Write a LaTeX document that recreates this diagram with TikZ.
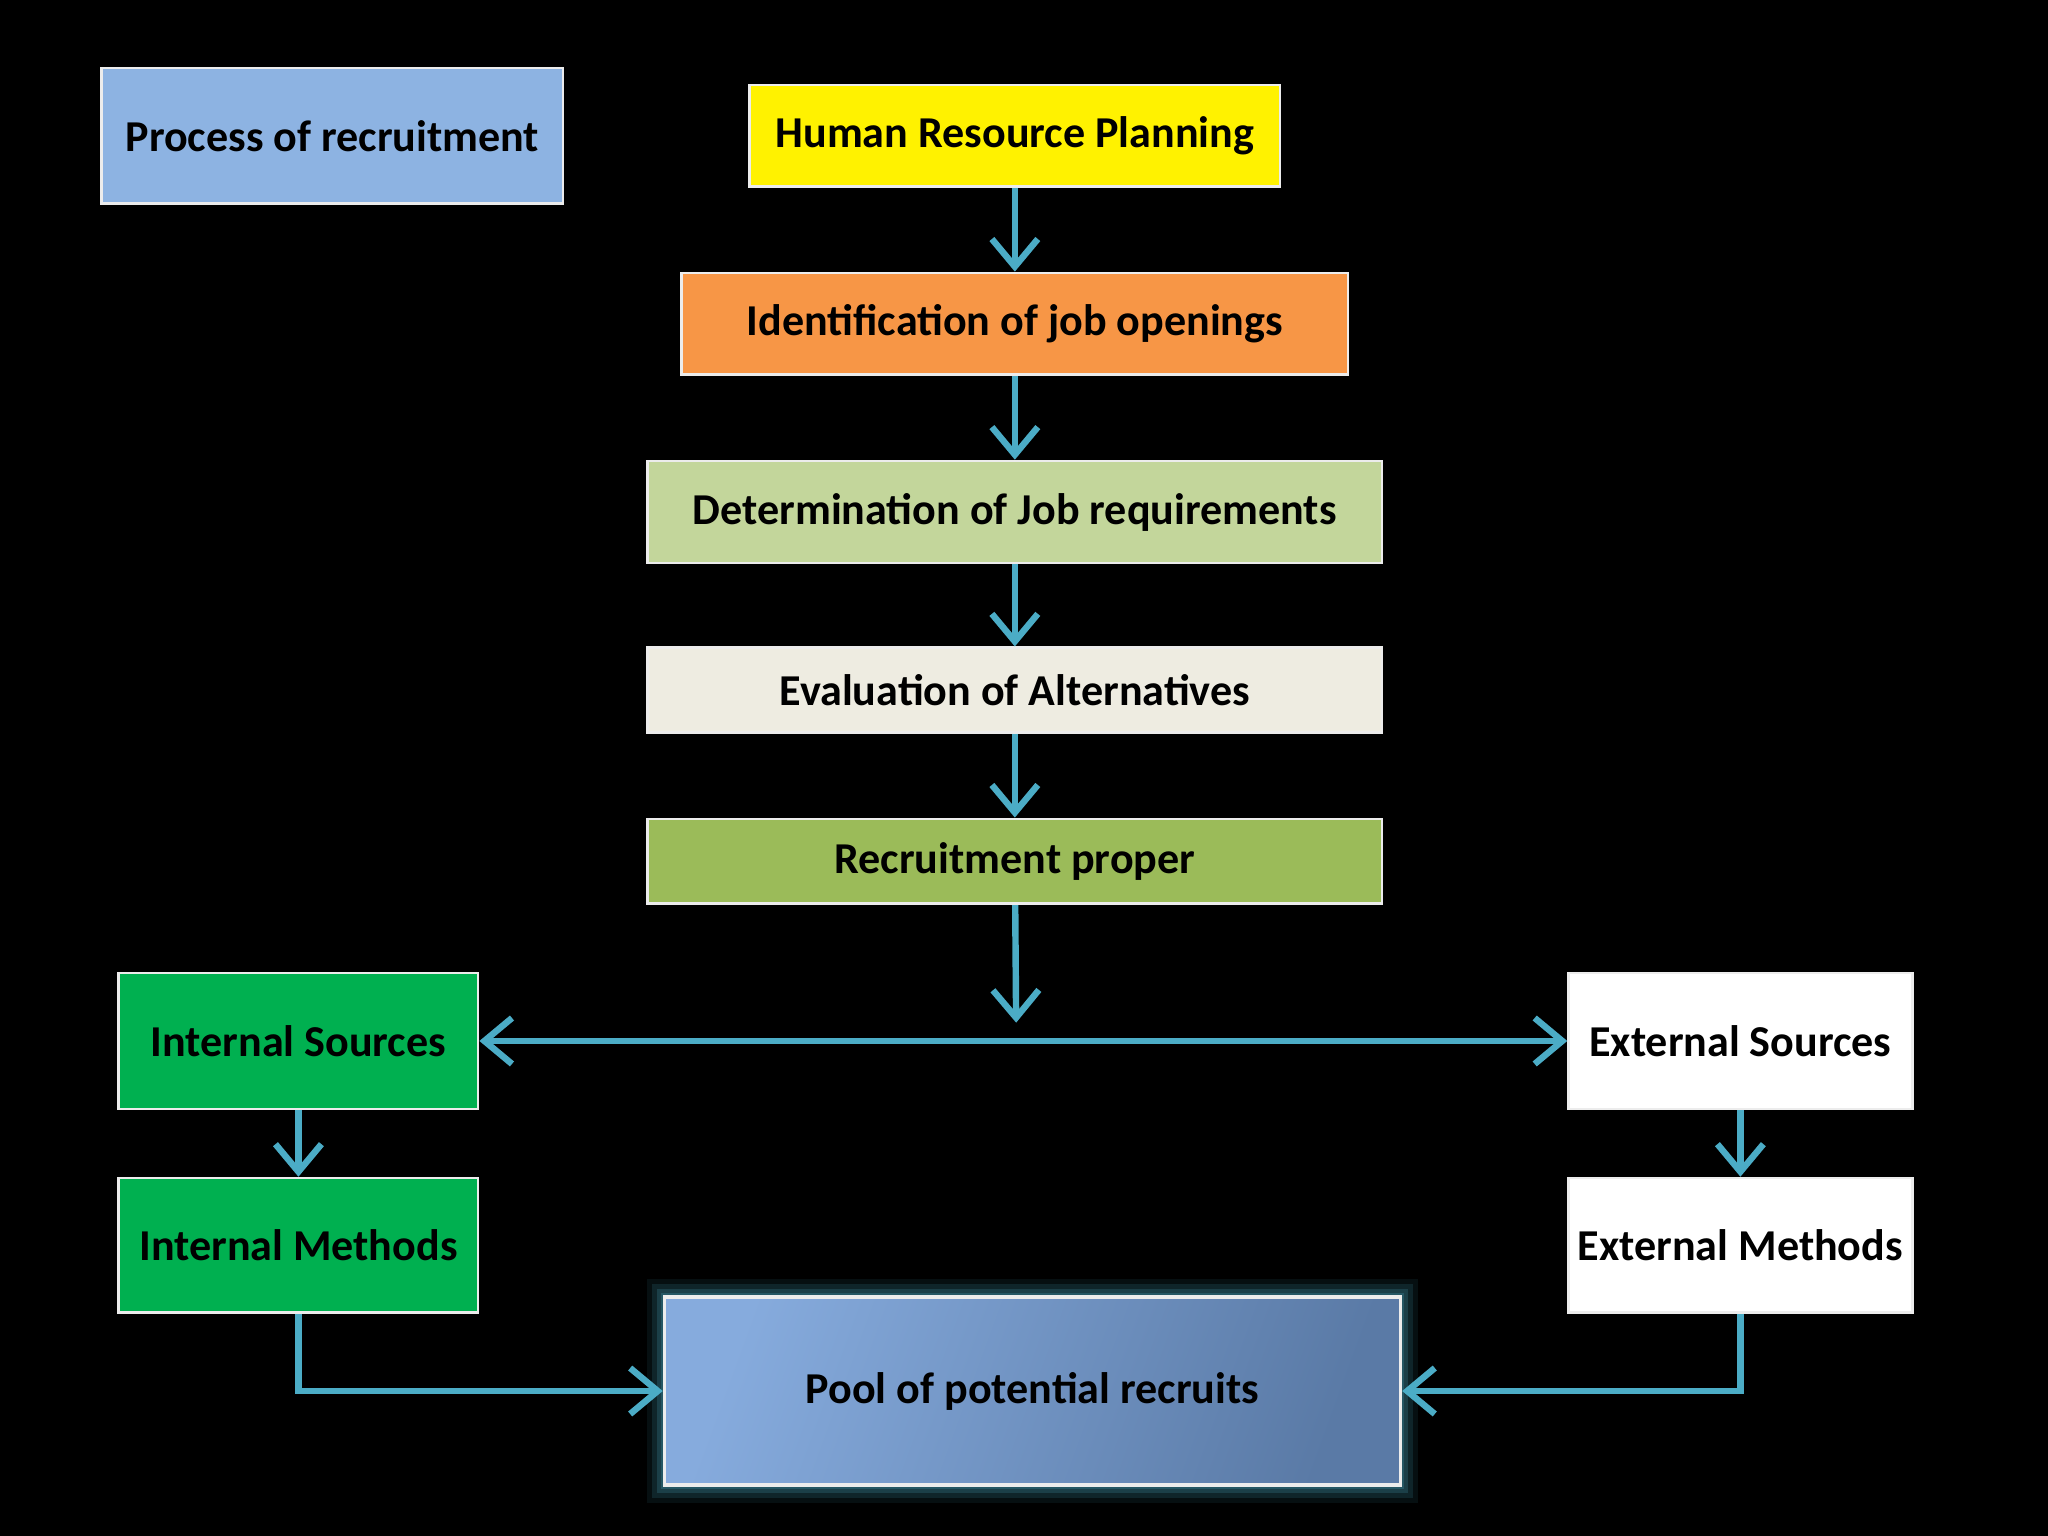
\documentclass[tikz,border=0pt]{standalone}
\usepackage{fontspec}
\setmainfont{Carlito}
\usetikzlibrary{arrows.meta,shadings}
\definecolor{arr}{HTML}{4BACC6}
\definecolor{cproc}{HTML}{8DB3E2}
\definecolor{cident}{HTML}{F79646}
\definecolor{cdet}{HTML}{C3D69B}
\definecolor{ceval}{HTML}{EEECE1}
\definecolor{crec}{HTML}{9BBB59}
\definecolor{cgreen}{HTML}{00B050}
\definecolor{cpl}{HTML}{86ABDD}
\definecolor{cpr}{HTML}{5A7AA6}
\begin{document}
\begin{tikzpicture}[x=0.01cm,y=-0.01cm,
  box/.style={draw=white!85!gray,line width=0.6pt,font=\bfseries\fontsize{9.6pt}{11pt}\selectfont,inner sep=0pt},
  con/.style={draw=arr,line width=1.4pt,-{Straight Barb[length=6pt,width=10pt,line width=1.4pt]}}]
\fill[black] (0,0) rectangle (1568,1176);
\newcommand\bx[6]{\node[box,fill=#6,minimum width={(#3-#2)*0.01cm},minimum height={(#5-#4)*0.01cm}] (#1) at ({(#2+#3)/2},{(#4+#5)/2}) {};}
\bx{proc}{78}{431}{52}{156}{cproc}
\bx{hrp}{574}{980}{65}{143}{yellow}
\bx{ident}{522}{1032}{209}{287}{cident}
\bx{det}{496}{1058}{353}{431}{cdet}
\bx{eval}{496}{1058}{496}{561}{ceval}
\bx{rec}{496}{1058}{627}{692}{crec}
\bx{ins}{91}{366}{745}{849}{cgreen}
\bx{exs}{1201}{1464}{745}{849}{white}
\bx{inm}{91}{366}{902}{1005}{cgreen}
\bx{exm}{1201}{1464}{902}{1005}{white}
\node[box,draw=none] at (proc) {Process of recruitment};
\node[box,draw=none] at (hrp) {Human Resource Planning};
\node[box,draw=none] at (ident) {Identification of job openings};
\node[box,draw=none] at (det) {Determination of Job requirements};
\node[box,draw=none] at (eval) {Evaluation of Alternatives};
\node[box,draw=none] at (rec) {Recruitment proper};
\node[box,draw=none] at (ins) {Internal Sources};
\node[box,draw=none] at (exs) {External Sources};
\node[box,draw=none] at (inm) {Internal Methods};
\node[box,draw=none] at (exm) {External Methods};
\foreach \d/\o in {14/0.15,10/0.25,6/0.4,3/0.6}
  \fill[arr!60!black,opacity=\o] (509-\d,993-\d) rectangle (1072+\d,1137+\d);
\node[draw=white!85!gray,line width=0.8pt,minimum width=5.63cm,minimum height=1.44cm,inner sep=0pt,
  left color=cpl,right color=cpr,shading angle=70] (pool) at (790.5,1065) {};
\node[box,draw=none] at (pool) {Pool of potential recruits};
\coordinate (mid) at (778,783);
\draw[con] (hrp) -- (ident);
\draw[con] (ident) -- (det);
\draw[con] (det) -- (eval);
\draw[con] (eval) -- (rec);
\draw[con] (rec) -- (mid);
\draw[con,{Straight Barb[length=6pt,width=10pt,line width=1.4pt]}-{Straight Barb[length=6pt,width=10pt,line width=1.4pt]}] (ins) -- (exs);
\draw[con] (ins) -- (inm);
\draw[con] (exs) -- (exm);
\draw[con] (inm.south) |- (pool.west);
\draw[con] (exm.south) |- (pool.east);
\end{tikzpicture}
\end{document}
